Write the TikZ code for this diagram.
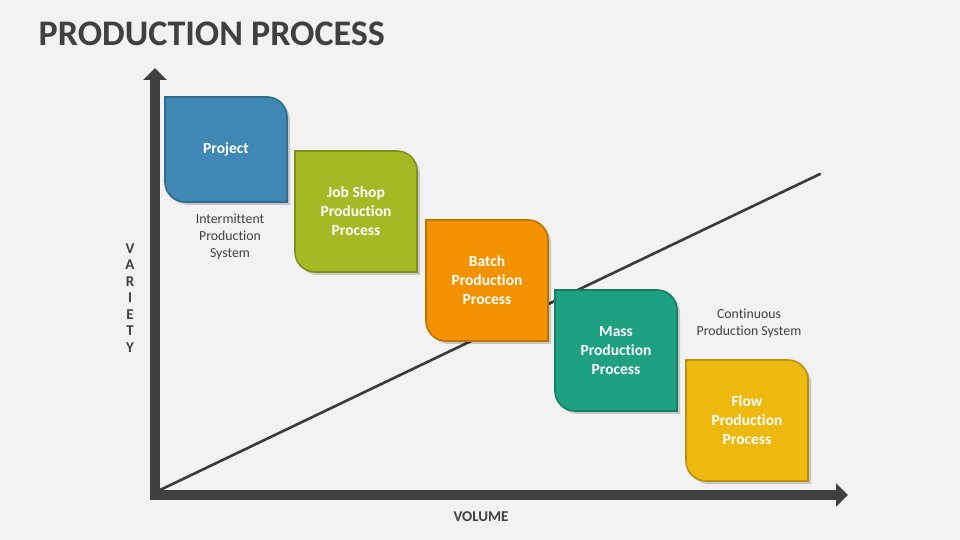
\documentclass[tikz,border=0pt]{standalone}
\usepackage{fontspec}
\setmainfont[Ligatures=NoCommon]{Carlito}
\usetikzlibrary{arrows.meta}
\definecolor{bg}{HTML}{F2F2F2}
\definecolor{ink}{HTML}{404040}
\definecolor{cproj}{HTML}{3F88B4}
\definecolor{cjob}{HTML}{A6B925}
\definecolor{cbatch}{HTML}{F39200}
\definecolor{cmass}{HTML}{1DA180}
\definecolor{cflow}{HTML}{EEB90F}
\tikzset{
  boxtext/.style={text=white, align=center, font=\fontsize{15.5}{19}\selectfont\bfseries, inner sep=0pt},
  note/.style={text=ink, align=center, font=\fontsize{13.8}{17}\selectfont, inner sep=0pt},
  axislabel/.style={text=ink, align=center, font=\fontsize{15}{16.5}\selectfont\bfseries, inner sep=0pt},
  axisline/.style={draw=ink, line width=10pt, line join=miter,
    {Triangle[width=23pt,length=12pt]}-{Triangle[width=23pt,length=12pt]}},
  diag/.style={draw=ink!90!black, line width=2.6pt, line cap=round},
}
% #1 x-left, #2 y-top (pixel, downward), #3 width, #4 height, #5 colour, #6 name, #7 text
\newcommand\prodbox[7]{%
  \pgfmathsetmacro\bx{#1}\pgfmathsetmacro\by{540-#2}%
  \pgfmathsetmacro\bw{#3}\pgfmathsetmacro\bh{#4}%
  \fill[black,opacity=.18] (\bx+3,\by-3) -- (\bx+\bw-20+3,\by-3) arc[start angle=90,end angle=0,radius=20] -- (\bx+\bw+3,\by-\bh-3) -- (\bx+20+3,\by-\bh-3) arc[start angle=270,end angle=180,radius=20] -- cycle;
  \path[fill=#5, draw=#5!78!black, line width=1.6pt] (\bx,\by) -- (\bx+\bw-20,\by) arc[start angle=90,end angle=0,radius=20] -- (\bx+\bw,\by-\bh) -- (\bx+20,\by-\bh) arc[start angle=270,end angle=180,radius=20] -- cycle;
  \node[boxtext] (#6) at (\bx+\bw/2,\by-\bh/2) {#7};%
}
\begin{document}
\begin{tikzpicture}[x=1pt,y=1pt]
\useasboundingbox (0,0) rectangle (960,540);
\fill[bg] (0,0) rectangle (960,540);
% title
\node[anchor=base west, inner sep=0pt, text=ink, font=\fontsize{36}{40}\selectfont\bfseries] (title) at (38.5,494) {PRODUCTION PROCESS};
% axes
\coordinate (ytip) at (155,472);
\coordinate (xtip) at (848,45);
\coordinate (orig) at (155,45);
\draw[axisline] (ytip) |- (xtip);
% diagonal
\coordinate (dstart) at (160,50);
\coordinate (dend) at (820,366);
\draw[diag] (dstart) -- (dend);
% boxes
\prodbox{165}{97}{122}{105}{cproj}{project}{Project}
\prodbox{295}{151}{122}{121}{cjob}{jobshop}{Job Shop\\Production\\Process}
\prodbox{426}{220}{122}{121}{cbatch}{batch}{Batch\\Production\\Process}
\prodbox{555}{290}{122}{121}{cmass}{mass}{Mass\\Production\\Process}
\prodbox{686}{360}{122}{121}{cflow}{flow}{Flow\\Production\\Process}
% notes
\node[note] (intermittent) at (230,303.5) {Intermittent\\Production\\System};
\node[note] (continuous) at (749,217) {Continuous\\Production System};
% axis labels
\node[axislabel] (variety) at (130,242) {V\\A\\R\\I\\E\\T\\Y};
\node[axislabel] (volume) at (481,23.5) {VOLUME};
\end{tikzpicture}
\end{document}
